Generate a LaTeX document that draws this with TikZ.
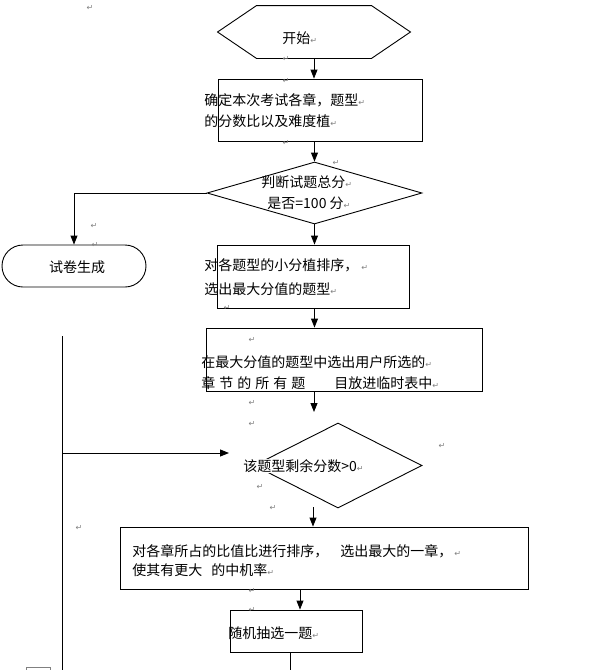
\documentclass[tikz,border=0pt]{standalone}
\usepackage{fontspec}
\setmainfont{Liberation Sans}
\newfontfamily\cjk{Noto Sans CJK SC}
\newfontfamily\djv{DejaVu Sans}
\usetikzlibrary{shapes.geometric,arrows.meta}
\definecolor{retgray}{gray}{0.5}
\newcommand\rmk{{\djv\fontsize{8}{8}\selectfont\color{retgray}↵}}
\begin{document}
\begin{tikzpicture}[x=1pt,y=-1pt, line width=0.9pt,
  box/.style={draw, rectangle, inner sep=0pt},
  dia/.style={draw, diamond, inner sep=0pt},
  arr/.style={-{Triangle[length=9pt,width=7pt]}},
  txt/.style={font={\cjk\fontsize{14}{21}\selectfont}, inner sep=0pt, anchor=west, align=left},
  rm/.style={font={\djv\fontsize{8}{8}\selectfont}, text=retgray, inner sep=0pt}]
\useasboundingbox (0,0) rectangle (592,670);
% shapes
\node[minimum width=192pt, minimum height=52pt, inner sep=0pt] (start) at (314,32) {};
\draw (start.west) -- ([xshift=39pt]start.north west) -- ([xshift=-39pt]start.north east) -- (start.east) -- ([xshift=-39pt]start.south east) -- ([xshift=39pt]start.south west) -- cycle;
\node[box, minimum width=204pt, minimum height=62pt] (b1) at (320,110) {};
\node[dia, minimum width=215pt, minimum height=62pt] (d1) at (314.5,193) {};
\node[draw, rounded corners=21pt, minimum width=144pt, minimum height=42pt, inner sep=0pt] (end) at (74,266) {};
\node[box, minimum width=192pt, minimum height=63pt] (b2) at (313,276.5) {};
\node[box, minimum width=276pt, minimum height=63pt] (b3) at (344,359.5) {};
\node[dia, minimum width=168pt, minimum height=85pt] (d2) at (338,465.5) {};
\node[box, minimum width=408pt, minimum height=62pt] (b4) at (324,558) {};
\node[box, minimum width=132pt, minimum height=42pt] (b5) at (296,631) {};
% connectors
\draw[arr] (start.south) -- (start.south |- b1.north);
\draw[arr] (b1.south -| d1.north) -- (d1.north);
\draw[arr] (d1.west) -| (end.north);
\draw[arr] (d1.south) -- (d1.south |- b2.north);
\draw[arr] (b2.south -| d1.south) -- (d1.south |- b3.north);
\coordinate (a1) at (314,412);
\draw[arr] (b3.south -| a1) -- (a1);
\coordinate (lt) at (62,336);
\coordinate (lb) at (62,672);
\draw (lt) -- (lb);
\coordinate (la) at (229,453);
\draw[arr] (lt |- la) -- (la);
\coordinate (a2) at (313,507);
\draw[arr] (a2) -- (a2 |- b4.north);
\coordinate (a3) at (300,0);
\draw[arr] (b4.south -| a3) -- (b5.north -| a3);
\coordinate (a4) at (290,672);
\draw (b5.south -| a4) -- (a4);
\draw[retgray, line width=0.6pt] (26,667) rectangle (50,675);
% texts
\node[txt] (t0) at (282,38) {开始\rmk};
\node[txt] (t1) at (204,110.5) {确定本次考试各章，题型\rmk\\的分数比以及难度植\rmk};
\node[txt] (t2) at (261,193) {判断试题总分\rmk\\\hspace{6pt}是否=100 分\rmk};
\node[txt, anchor=center] (t3) at (77,267) {试卷生成};
\node[txt] (t4) at (204,277) {对各题型的小分植排序，\hspace{3pt}\rmk\\[3pt]选出最大分值的题型\rmk};
\node[txt] (t5) at (201,372.5) {在最大分值的题型中选出用户所选的\rmk\\章\hspace{4pt}节\hspace{4pt}的\hspace{4pt}所\hspace{4pt}有\hspace{4pt}题\hspace{29pt}目放进临时表中\rmk};
\node[txt, fill=white] (t6) at (243,466) {该题型剩余分数>0\rmk};
\node[txt] (t7) at (132,560.5) {对各章所占的比值比进行排序，\hspace{12pt}选出最大的一章，\hspace{2pt}\rmk\\[-2pt]使其有更大\hspace{9pt}的中机率\rmk};
\node[txt] (t8) at (228,633) {随机抽选一题\rmk};
% paragraph marks
\node[rm] (r1) at (90,8) {↵};
\node[rm] (r2) at (286,59) {↵};
\node[rm] (r3) at (286,81) {↵};
\node[rm] (r4) at (286,143) {↵};
\node[rm] (r5) at (336,163) {↵};
\node[rm] (r6) at (94,226) {↵};
\node[rm] (r7) at (95,245) {↵};
\node[rm] (r8) at (227,308) {↵};
\node[rm] (r9) at (252,340) {↵};
\node[rm] (r10) at (252,403) {↵};
\node[rm] (r11) at (252,424) {↵};
\node[rm] (r12) at (442,446) {↵};
\node[rm] (r13) at (260,487) {↵};
\node[rm] (r14) at (273,508) {↵};
\node[rm] (r15) at (79,528) {↵};
\node[rm] (r16) at (252,591) {↵};
\node[rm] (r17) at (252,610) {↵};
\end{tikzpicture}
\end{document}
